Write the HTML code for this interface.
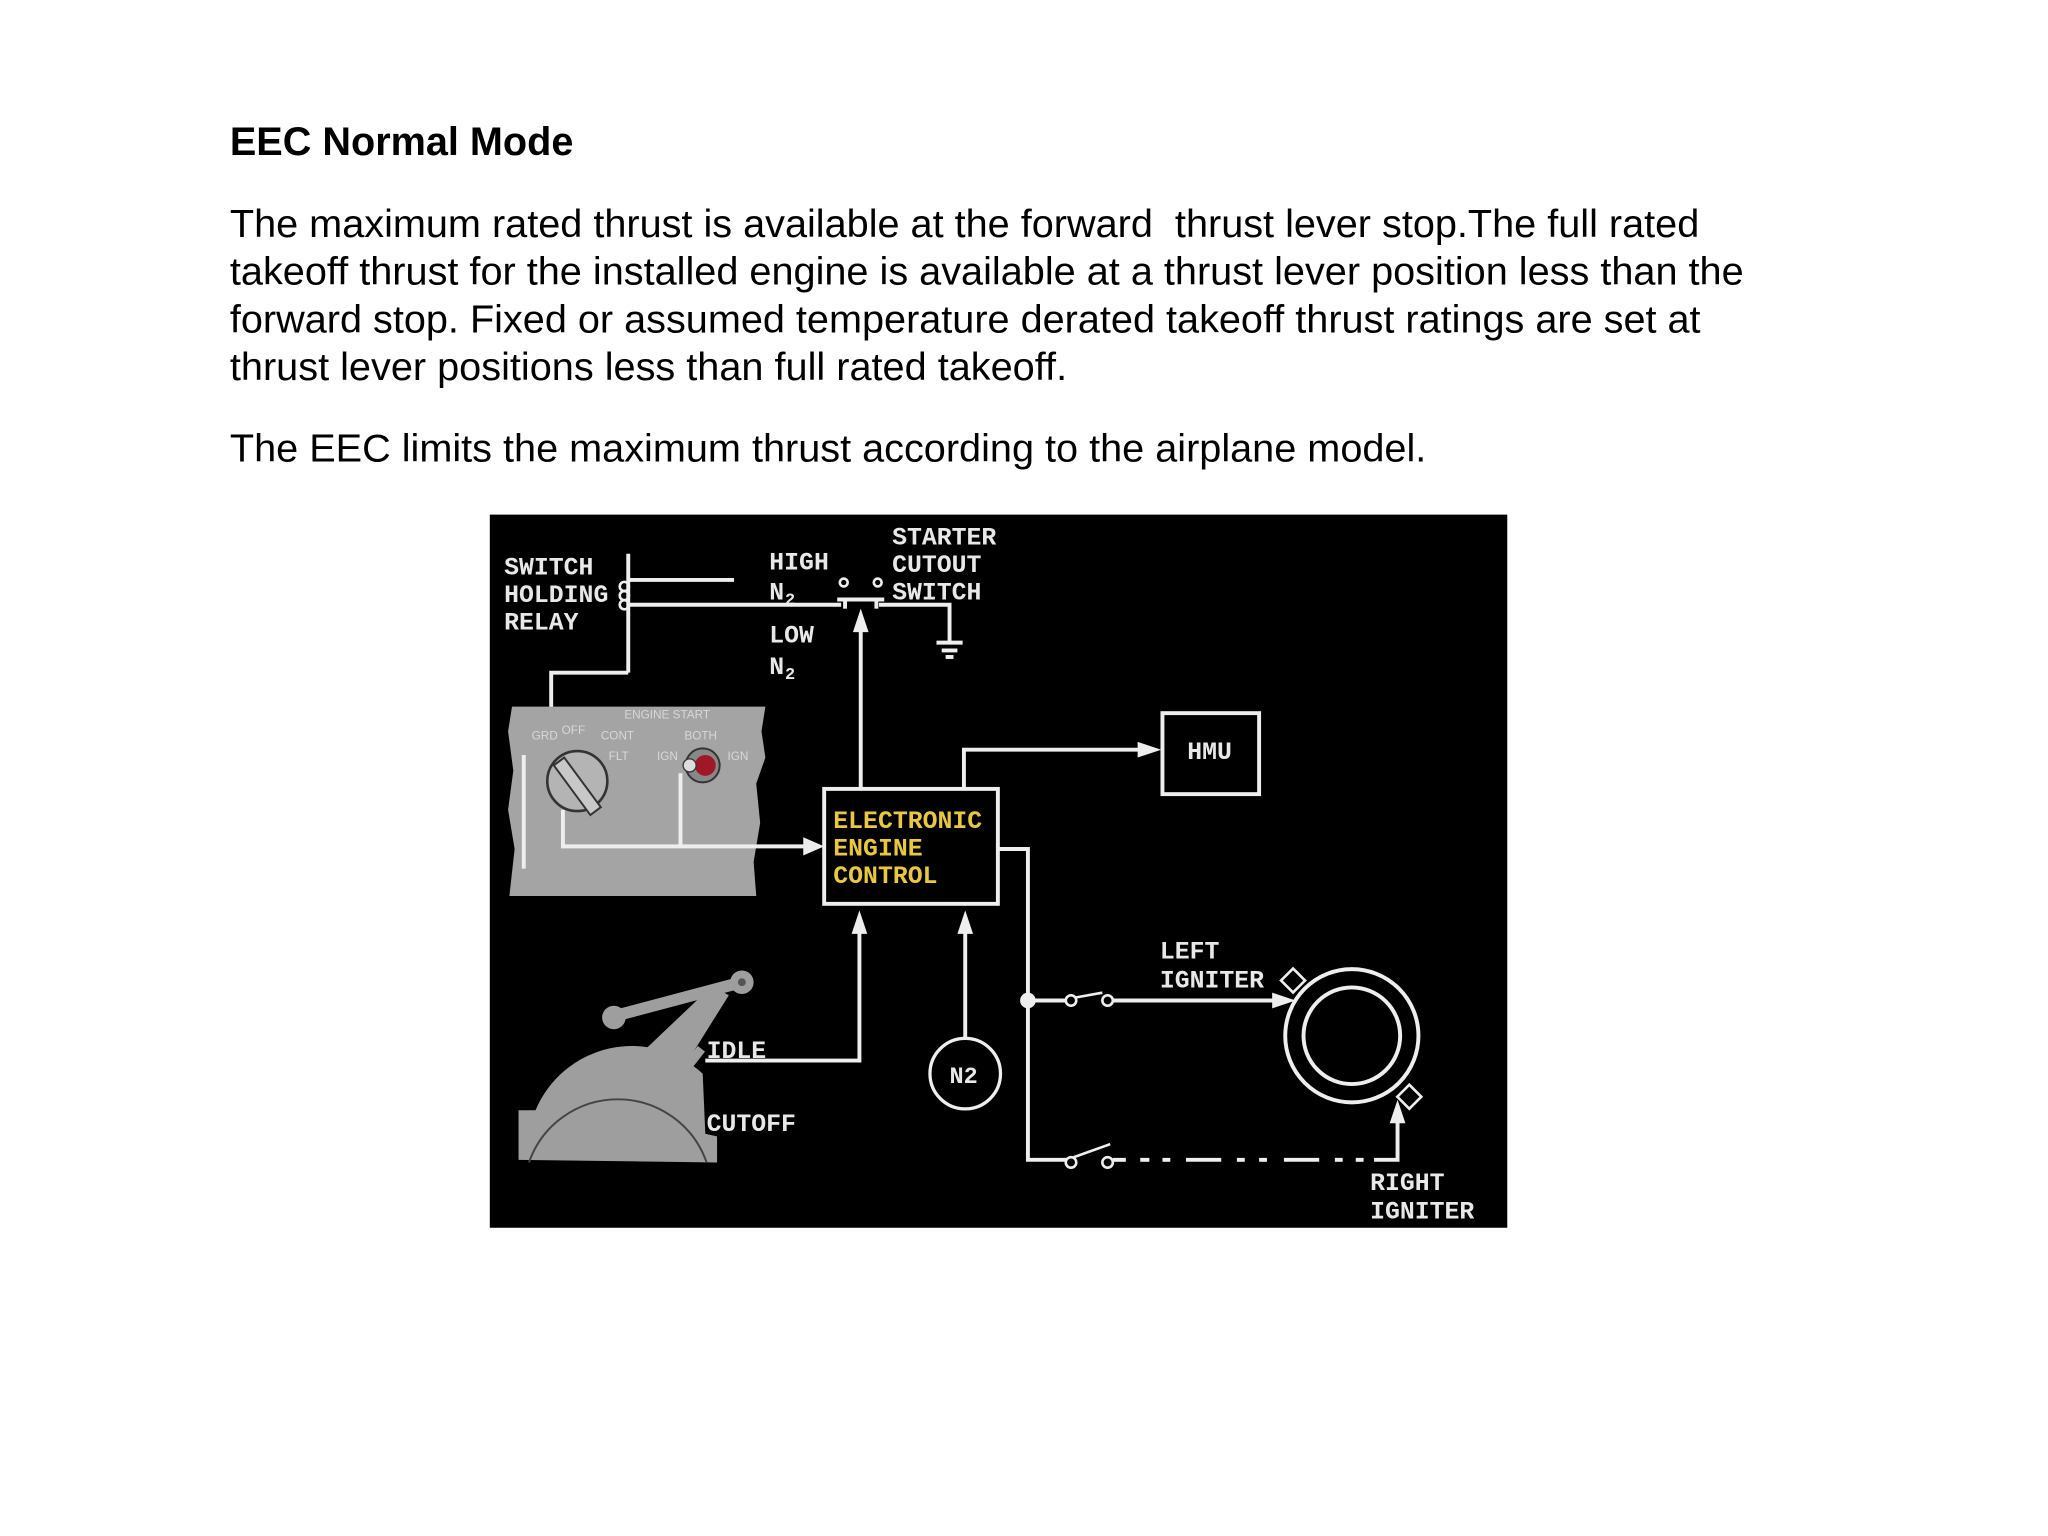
<!DOCTYPE html>
<html><head><meta charset="utf-8"><style>
html,body{margin:0;padding:0;background:#fff;}
svg{display:block;}
</style></head><body>
<svg width="2048" height="1536" viewBox="0 0 1568 1176" xmlns="http://www.w3.org/2000/svg">
<rect width="1568" height="1176" fill="#fff"/>
<g font-family="Liberation Sans, Arial, sans-serif" fill="#000">
<text x="176" y="118.5" font-size="30.5" font-weight="bold" textLength="263" lengthAdjust="spacingAndGlyphs">EEC Normal Mode</text>
<g font-size="29.5">
<text x="176" y="181.5" textLength="1125" lengthAdjust="spacingAndGlyphs">The maximum rated thrust is available at the forward &#160;thrust lever stop.The full rated</text>
<text x="176" y="218" textLength="1159" lengthAdjust="spacingAndGlyphs">takeoff thrust for the installed engine is available at a thrust lever position less than the</text>
<text x="176" y="254.5" textLength="1126" lengthAdjust="spacingAndGlyphs">forward stop. Fixed or assumed temperature derated takeoff thrust ratings are set at</text>
<text x="176" y="291" textLength="641" lengthAdjust="spacingAndGlyphs">thrust lever positions less than full rated takeoff.</text>
<text x="176" y="353.5" textLength="916" lengthAdjust="spacingAndGlyphs">The EEC limits the maximum thrust according to the airplane model.</text>
</g>
</g>
<rect x="375" y="394" width="779" height="546" fill="#000"/>
<!-- throttle -->
<path d="M397,888 L397,850 L410,850 A80,80 0 0 1 538,822 L540,868 L549,870 L549,890 Z" fill="#9e9e9e"/>
<path d="M405,890 A72,72 0 0 1 541,890" fill="none" stroke="#444" stroke-width="1.5"/>
<path d="M485,812 L545,755 L558,762 L518,826 Z" fill="#9e9e9e"/>
<line x1="470" y1="778" x2="568" y2="752" stroke="#9e9e9e" stroke-width="9"/>
<circle cx="470" cy="779" r="9" fill="#9e9e9e"/>
<circle cx="568" cy="752" r="9" fill="#9e9e9e"/><circle cx="568" cy="752" r="3" fill="#555"/>
<line x1="508" y1="840" x2="537" y2="803" stroke="#9e9e9e" stroke-width="7"/>
<g font-family="Liberation Mono, DejaVu Sans Mono, monospace" font-weight="bold" fill="#e8e8e8" font-size="19">
<text x="386" y="440">SWITCH</text><text x="386" y="461">HOLDING</text><text x="386" y="482">RELAY</text>
<text x="589" y="436">HIGH</text><text x="589" y="459">N</text><text x="601" y="463" font-size="13">2</text>
<text x="589" y="492">LOW</text><text x="589" y="516">N</text><text x="601" y="520" font-size="13">2</text>
<text x="683" y="417">STARTER</text><text x="683" y="438">CUTOUT</text><text x="683" y="459">SWITCH</text>
<text x="888" y="734">LEFT</text><text x="888" y="756">IGNITER</text>
<text x="1049" y="911">RIGHT</text><text x="1049" y="933">IGNITER</text>
<text x="541" y="810">IDLE</text><text x="541" y="866">CUTOFF</text>
<text x="909" y="581">HMU</text>
<text x="727" y="829" font-size="18">N2</text>
</g>
<g stroke="#eee" stroke-width="3" fill="none">
<line x1="481" y1="424" x2="481" y2="515"/>
<circle cx="478" cy="449" r="3.5" stroke-width="2"/><circle cx="478" cy="456" r="3.5" stroke-width="2"/><circle cx="478" cy="463" r="3.5" stroke-width="2"/>
<line x1="481" y1="444" x2="562" y2="444"/>
<polyline points="481,463 644,463"/>
<polyline points="481,515 422,515 422,560"/>
<circle cx="646" cy="446" r="3" stroke-width="2"/><circle cx="672" cy="446" r="3" stroke-width="2"/>
<line x1="641" y1="459" x2="677" y2="459"/>
<line x1="647" y1="459" x2="647" y2="466"/><line x1="671" y1="459" x2="671" y2="466"/>
<polyline points="673,463 727,463 727,491"/>
<line x1="717" y1="492" x2="737" y2="492"/><line x1="721" y1="498" x2="733" y2="498"/><line x1="724" y1="503" x2="730" y2="503"/>
<line x1="659" y1="603" x2="659" y2="478"/>
<polyline points="738,604 738,574 878,574"/>
<rect x="890" y="546" width="74" height="62"/>
<rect x="631" y="604" width="133" height="88"/>
<polyline points="764,650 787,650 787,888 817,888"/>
<line x1="787" y1="766" x2="816" y2="766"/>
<line x1="852" y1="766" x2="978" y2="766"/>
<line x1="822" y1="764" x2="844" y2="760" stroke-width="2"/>
<line x1="822" y1="886" x2="850" y2="876" stroke-width="2"/>
<line x1="852" y1="888" x2="862" y2="888"/>
<line x1="873" y1="888" x2="880" y2="888"/><line x1="890" y1="888" x2="896" y2="888"/>
<line x1="908" y1="888" x2="935" y2="888"/>
<line x1="947" y1="888" x2="953" y2="888"/><line x1="964" y1="888" x2="970" y2="888"/>
<line x1="983" y1="888" x2="1010" y2="888"/>
<line x1="1022" y1="888" x2="1028" y2="888"/><line x1="1038" y1="888" x2="1044" y2="888"/>
<polyline points="1052,888 1070,888 1070,858"/>
<circle cx="1035" cy="793" r="51" stroke-width="3"/>
<circle cx="1035" cy="793" r="37" stroke-width="3"/>
<polyline points="540,812 658,812 658,710"/>
<line x1="739" y1="795" x2="739" y2="710"/>
<circle cx="739" cy="822" r="27" stroke-width="2.5"/>
</g>
<g fill="#eee">
<polygon points="659,466 653,484 665,484"/>
<polygon points="889,574 871,568 871,580"/>
<polygon points="658,697 652,715 664,715"/>
<polygon points="739,697 733,715 745,715"/>
<polygon points="992,766 974,760 974,772"/>
<polygon points="1070,842 1064,860 1076,860"/>
<circle cx="787" cy="766" r="6"/>
</g>
<g fill="#000" stroke="#eee" stroke-width="2">
<circle cx="820" cy="766" r="4"/><circle cx="848" cy="766" r="4"/>
<circle cx="820" cy="890" r="4"/><circle cx="848" cy="890" r="4"/>
<rect x="984" y="744" width="13" height="13" transform="rotate(45 990 750)"/>
<rect x="1073" y="833" width="13" height="13" transform="rotate(45 1079 839)"/>
</g>
<path d="M392,541 L586,541 L583,560 L586,580 L579,600 L582,630 L577,660 L579,686 L390,686 L394,650 L389,620 L393,590 L389,560 Z" fill="#a4a4a4"/>
<g font-family="Liberation Sans, Arial, sans-serif" fill="#d8d8d8" font-size="9">
<text x="478" y="550">ENGINE START</text><text x="407" y="566">GRD</text><text x="430" y="562">OFF</text><text x="460" y="566">CONT</text><text x="524" y="566">BOTH</text><text x="466" y="582">FLT</text><text x="503" y="582">IGN</text><text x="557" y="582">IGN</text>
</g>
<g stroke="#eee" stroke-width="3" fill="none">
<line x1="401" y1="578" x2="401" y2="665"/>
<polyline points="431,620 431,648 620,648"/>
<line x1="521" y1="592" x2="521" y2="648"/>
</g>
<polygon points="631,648 615,641 615,655" fill="#eee"/>
<circle cx="442" cy="598" r="23" fill="#b4b4b4" stroke="#333" stroke-width="2"/>
<path d="M432,580 L460,618 L452,624 L424,586 Z" fill="#c8c8c8" stroke="#333" stroke-width="1.5"/>
<circle cx="538" cy="586" r="13" fill="#888" stroke="#333" stroke-width="1.5"/>
<circle cx="540" cy="586" r="8" fill="#a01828"/>
<circle cx="528" cy="586" r="5" fill="#ddd" stroke="#333"/>
<g font-family="Liberation Mono, DejaVu Sans Mono, monospace" font-weight="bold" fill="#e8c840" font-size="19">
<text x="638" y="634">ELECTRONIC</text><text x="638" y="655">ENGINE</text><text x="638" y="676">CONTROL</text>
</g>
</svg>
</body></html>
